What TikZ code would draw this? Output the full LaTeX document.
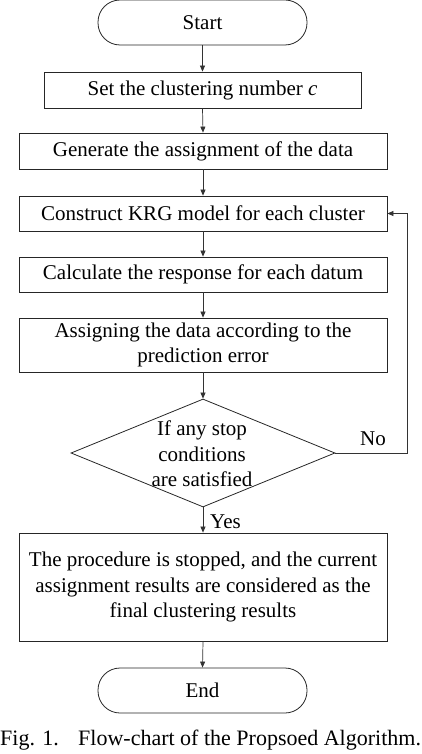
\documentclass[tikz,border=0pt]{standalone}
\usepackage{fontspec}
\setmainfont{Liberation Serif}
\usetikzlibrary{shapes.geometric,arrows.meta}
\begin{document}
\begin{tikzpicture}[x=1pt,y=-1pt,
  every node/.style={font=\fontsize{21}{25.5}\selectfont, text=black},
  box/.style={draw=black!85, line width=0.8pt, rectangle, inner sep=0pt, align=center},
  term/.style={draw=black!85, line width=0.8pt, rectangle, rounded corners=22pt, minimum width=209pt, minimum height=45pt, inner sep=0pt},
  dec/.style={draw=black!85, line width=0.8pt, diamond, minimum width=264pt, minimum height=108pt, inner sep=0pt},
  arr/.style={draw=black!80, line width=0.7pt, -{Triangle[length=6pt,width=5pt]}},
  lbl/.style={inner sep=0pt}
]
\useasboundingbox (0,0) rectangle (422,754);
\node[term] (start) at (202.5,22.5) {Start};
\node[box, minimum width=317pt, minimum height=36pt] (b1) at (202.5,90) {Set the clustering number \textit{c}};
\node[box, minimum width=368pt, minimum height=36pt] (b2) at (203,151) {Generate the assignment of the data};
\node[box, minimum width=368pt, minimum height=35pt] (b3) at (203,213.5) {Construct KRG model for each cluster};
\node[box, minimum width=368pt, minimum height=35pt] (b4) at (203,274.5) {Calculate the response for each datum};
\node[box, minimum width=368pt, minimum height=54pt] (b5) at (203,345) {Assigning the data according to the\\prediction error};
\node[dec] (d) at (203,453) {};
\node[lbl, align=center] (dt) at (202,454) {If any stop\\conditions\\are satisfied};
\node[box, minimum width=368pt, minimum height=108pt] (b6) at (203,587) {The procedure is stopped, and the current\\assignment results are considered as the\\final clustering results};
\node[term] (end) at (202.5,690.5) {End};
\coordinate (fb) at (407,453);
\node[lbl] (no) at (373,439) {No};
\node[lbl, anchor=west] (yes) at (210,522) {Yes};
\node[lbl, anchor=base west, font=\fontsize{22}{26}\selectfont] (figno) at (0,745) {Fig. 1.};
\node[lbl, anchor=base west, font=\fontsize{22}{26}\selectfont] (cap) at (78,745) {Flow-chart of the Propsoed Algorithm.};
\draw[arr] (start.south) -- (b1.north);
\draw[arr] (b1.south) -- (b2.north);
\draw[arr] (b2.south) -- (b3.north);
\draw[arr] (b3.south) -- (b4.north);
\draw[arr] (b4.south) -- (b5.north);
\draw[arr] (b5.south) -- (d.north);
\draw[arr] (d.south) -- (b6.north);
\draw[arr] (b6.south) -- (end.north);
\draw[arr] (d.east) -- (fb) |- (b3.east);
\end{tikzpicture}
\end{document}
